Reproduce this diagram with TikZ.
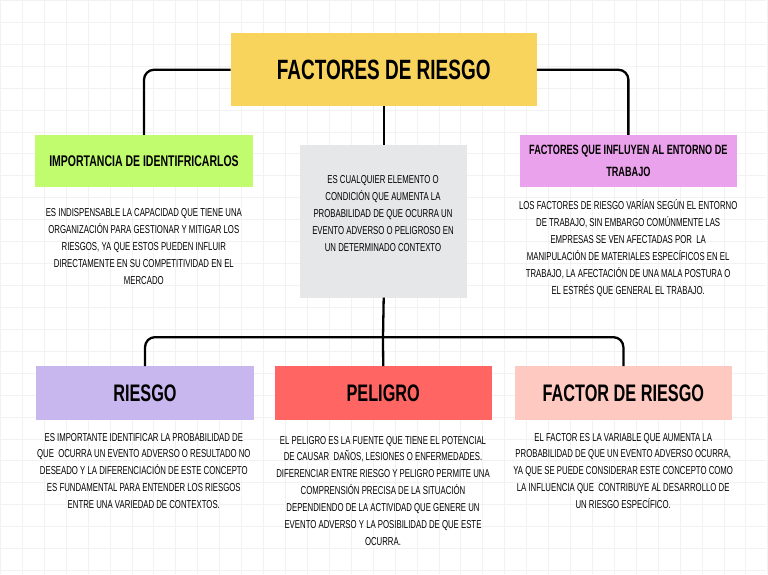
\documentclass[tikz,border=0pt]{standalone}
\usepackage{fontspec}
\setmainfont{Liberation Sans}[FakeStretch=0.68]
\begin{document}
\begin{tikzpicture}[x=1pt,y=-1pt,
  box/.style={draw=none,anchor=north west,inner sep=0,align=center,font=\bfseries},
  desc/.style={align=center,font=\fontsize{11.5}{17}\selectfont,inner sep=0},
  conn/.style={line width=2.3pt,rounded corners=10pt}]
\fill[white] (0,0) rectangle (768,576);
\foreach \i in {0,22,...,770} \draw[black!5,line width=0.6pt] (\i,0) -- (\i,576);
\foreach \i in {0,22,...,580} \draw[black!5,line width=0.6pt] (0,\i) -- (768,\i);
\useasboundingbox (0,0) rectangle (768,576);
\definecolor{cy}{HTML}{F9D45C}\definecolor{cg}{HTML}{C0FC6E}\definecolor{cgr}{HTML}{E6E7E8}
\definecolor{cp}{HTML}{EBA2EC}\definecolor{cpu}{HTML}{C8B7EE}\definecolor{cr}{HTML}{FF6663}\definecolor{cpe}{HTML}{FDC9C0}
\node[box,fill=cy,minimum width=307,minimum height=73,font=\bfseries\fontsize{28}{30}\selectfont] (t) at (231,33) {FACTORES DE RIESGO};
\node[box,fill=cg,minimum width=218,minimum height=52,font=\bfseries\fontsize{15.5}{16}\selectfont] (g) at (35,135) {IMPORTANCIA DE IDENTIFRICARLOS};
\node[box,fill=cgr,minimum width=167,minimum height=153] (c) at (301,145) {};
\node[box,fill=cp,minimum width=218,minimum height=52,font=\bfseries\fontsize{13.5}{22}\selectfont] (p) at (521,135) {FACTORES QUE INFLUYEN AL ENTORNO DE\\TRABAJO};
\node[box,fill=cpu,minimum width=218,minimum height=54,font=\bfseries\fontsize{24}{26}\selectfont] (b1) at (36,367) {RIESGO};
\node[box,fill=cr,minimum width=218,minimum height=54,font=\bfseries\fontsize{24}{26}\selectfont] (b2) at (275,367) {PELIGRO};
\node[box,fill=cpe,minimum width=218,minimum height=54,font=\bfseries\fontsize{24}{26}\selectfont] (b3) at (516,367) {FACTOR DE RIESGO};
\coordinate (j) at (384,338);
\draw[conn] (t.west) -| (g.north);
\draw[conn] (t.east) -| (p.north);
\draw[conn] (t.south) -- (c.north);
\draw[conn] (c.south) -- (j);
\draw[conn] (b1.north) |- (j) -| (b3.north);
\draw[conn] (j) -- (b2.north);
\node[desc,anchor=north] (d0) at (144,209) {ES INDISPENSABLE LA CAPACIDAD QUE TIENE UNA\\ORGANIZACIÓN PARA GESTIONAR Y MITIGAR LOS\\RIESGOS, YA QUE ESTOS PUEDEN INFLUIR\\DIRECTAMENTE EN SU COMPETITIVIDAD EN EL\\MERCADO};
\node[desc,anchor=north] (dc) at (384,176) {ES CUALQUIER ELEMENTO O\\CONDICIÓN QUE AUMENTA LA\\PROBABILIDAD DE QUE OCURRA UN\\EVENTO ADVERSO O PELIGROSO EN\\UN DETERMINADO CONTEXTO};
\node[desc,anchor=north] (dp) at (630,200) {LOS FACTORES DE RIESGO VARÍAN SEGÚN EL ENTORNO\\DE TRABAJO, SIN EMBARGO COMÚNMENTE LAS\\EMPRESAS SE VEN AFECTADAS POR~ LA\\MANIPULACIÓN DE MATERIALES ESPECÍFICOS EN EL\\TRABAJO, LA AFECTACIÓN DE UNA MALA POSTURA O\\EL ESTRÉS QUE GENERAL EL TRABAJO.};
\node[desc,anchor=north] (d1) at (144,434) {ES IMPORTANTE IDENTIFICAR LA PROBABILIDAD DE\\QUE~ OCURRA UN EVENTO ADVERSO O RESULTADO NO\\DESEADO Y LA DIFERENCIACIÓN DE ESTE CONCEPTO\\ES FUNDAMENTAL PARA ENTENDER LOS RIESGOS\\ENTRE UNA VARIEDAD DE CONTEXTOS.};
\node[desc,anchor=north] (d2) at (384,437) {EL PELIGRO ES LA FUENTE QUE TIENE EL POTENCIAL\\DE CAUSAR~ DAÑOS, LESIONES O ENFERMEDADES.\\DIFERENCIAR ENTRE RIESGO Y PELIGRO PERMITE UNA\\COMPRENSIÓN PRECISA DE LA SITUACIÓN\\DEPENDIENDO DE LA ACTIVIDAD QUE GENERE UN\\EVENTO ADVERSO Y LA POSIBILIDAD DE QUE ESTE\\OCURRA.};
\node[desc,anchor=north] (d3) at (625,434) {EL FACTOR ES LA VARIABLE QUE AUMENTA LA\\PROBABILIDAD DE QUE UN EVENTO ADVERSO OCURRA,\\YA QUE SE PUEDE CONSIDERAR ESTE CONCEPTO COMO\\LA INFLUENCIA QUE~ CONTRIBUYE AL DESARROLLO DE\\UN RIESGO ESPECÍFICO.};
\end{tikzpicture}
\end{document}
